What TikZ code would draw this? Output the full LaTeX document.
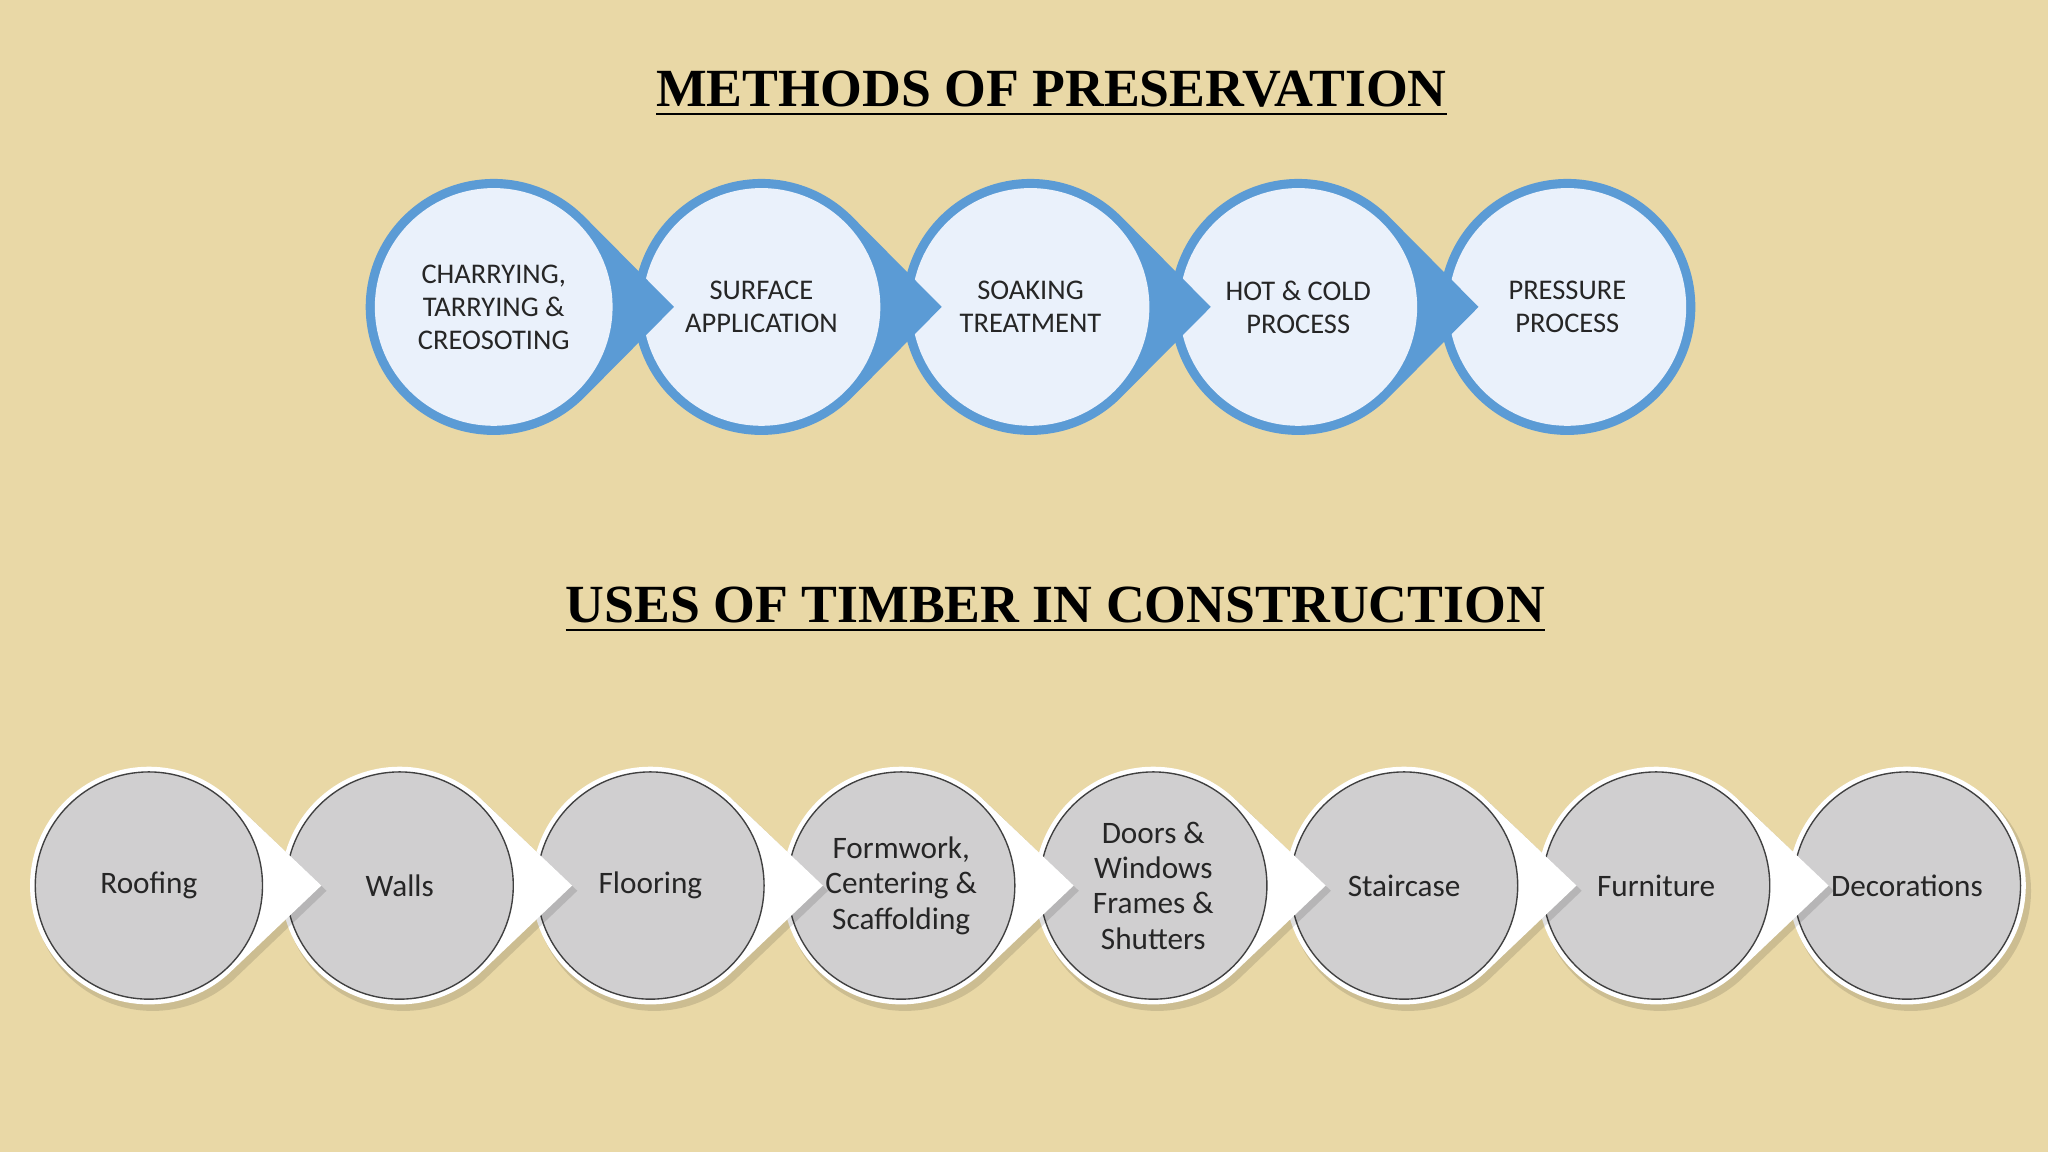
\documentclass[tikz,border=0pt]{standalone}
\usepackage{fontspec}
\setmainfont{Liberation Serif}
\newfontfamily\carlitofam{Carlito}
\definecolor{bg}{HTML}{E9D8A6}
\definecolor{bblue}{HTML}{5B9BD5}
\definecolor{lblue}{HTML}{EAF1FB}
\definecolor{gfill}{HTML}{D0CFD0}
\begin{document}
\begin{tikzpicture}[x=0.01cm,y=-0.01cm,
  ttl/.style={font=\bfseries\fontsize{11.7}{14}\selectfont},
  tt/.style={font=\carlitofam\fontsize{6.2}{7.2}\selectfont,align=center,text=black!85},
  bt/.style={font=\carlitofam\fontsize{6.8}{7.7}\selectfont,align=center,text=black!85}]
\fill[bg] (0,0) rectangle (1568,882);
\useasboundingbox (0,0) rectangle (1568,882);
\node[ttl] (t1) at (805,72) {\underline{METHODS OF PRESERVATION}};
\node[ttl] (t2) at (808,467) {\underline{USES OF TIMBER IN CONSTRUCTION}};
% top row, right to left
\foreach \x/\tip in {1200/0,994/1,789/1,583/1,378/1}{
  \ifnum\tip=1
  \fill[bblue] (\x,235) ++(45:98) arc[start angle=45,end angle=315,radius=98] -- (\x+138,235) -- cycle;
  \else
  \fill[bblue] (\x,235) circle[radius=98];
  \fi
  \fill[lblue] (\x,235) circle[radius=91];
}
\node[tt] (a1) at (378,235) {CHARRYING,\\TARRYING \&\\CREOSOTING};
\node[tt] (a2) at (583,235) {SURFACE\\APPLICATION};
\node[tt] (a3) at (789,235) {SOAKING\\TREATMENT};
\node[tt] (a4) at (994,235) {HOT \& COLD\\PROCESS};
\node[tt] (a5) at (1200,235) {PRESSURE\\PROCESS};
% bottom row
\foreach \x/\tip in {1460/0,1268/1,1075/1,883/1,690/1,498/1,306/1,114/1}{
  \ifnum\tip=1
  \fill[black,opacity=0.12] (\x+3,682) ++(48:92) arc[start angle=48,end angle=312,radius=92] -- (\x+136,682) -- cycle;
  \fill[white] (\x,678) ++(48:91) arc[start angle=48,end angle=312,radius=91] -- (\x+132,678) -- cycle;
  \else
  \fill[black,opacity=0.12] (\x+3,682) circle[radius=92];
  \fill[white] (\x,678) circle[radius=91];
  \fi
  \filldraw[fill=gfill,draw=black!75,line width=0.3pt] (\x,678) circle[radius=87];
}
\node[bt] (b1) at (114,678) {Roofing};
\node[bt] (b2) at (306,678) {Walls};
\node[bt] (b3) at (498,678) {Flooring};
\node[bt] (b4) at (690,678) {Formwork,\\Centering \&\\Scaffolding};
\node[bt] (b5) at (883,678) {Doors \&\\Windows\\Frames \&\\Shutters};
\node[bt] (b6) at (1075,678) {Staircase};
\node[bt] (b7) at (1268,678) {Furniture};
\node[bt] (b8) at (1460,678) {Decorations};
\end{tikzpicture}
\end{document}
